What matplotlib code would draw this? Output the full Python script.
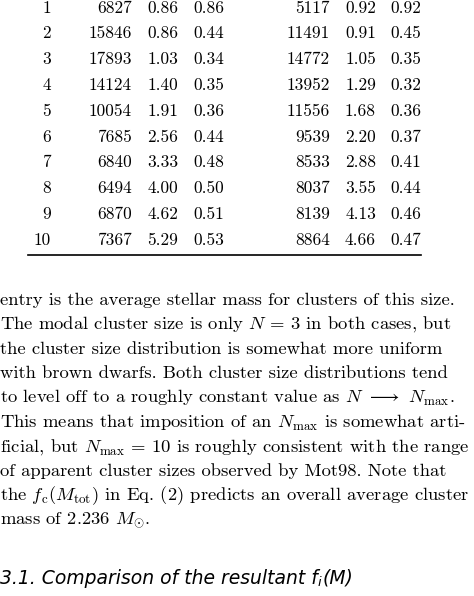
import matplotlib
matplotlib.use("Agg")
import matplotlib.pyplot as plt

plt.rcParams["font.family"] = ["cmr10"]
plt.rcParams["mathtext.fontset"] = "cm"
plt.rcParams["axes.formatter.use_mathtext"] = True

sizes = [1, 2, 3, 4, 5, 6, 7, 8, 9, 10]
count_a = [6827, 15846, 17893, 14124, 10054, 7685, 6840, 6494, 6870, 7367]
mass_a = ["0.86", "0.86", "1.03", "1.40", "1.91", "2.56", "3.33", "4.00", "4.62", "5.29"]
avg_a = ["0.86", "0.44", "0.34", "0.35", "0.36", "0.44", "0.48", "0.50", "0.51", "0.53"]
count_b = [5117, 11491, 14772, 13952, 11556, 9539, 8533, 8037, 8139, 8864]
mass_b = ["0.92", "0.91", "1.05", "1.29", "1.68", "2.20", "2.88", "3.55", "4.13", "4.66"]
avg_b = ["0.92", "0.45", "0.35", "0.32", "0.36", "0.37", "0.41", "0.44", "0.46", "0.47"]

paragraph = [
    "entry is the average stellar mass for clusters of this size.",
    "The modal cluster size is only $N$ = 3 in both cases, but",
    "the cluster size distribution is somewhat more uniform",
    "with brown dwarfs. Both cluster size distributions tend",
    r"to level off to a roughly constant value as $N$ $\longrightarrow$ $N_{\rm max}$.",
    r"This means that imposition of an $N_{\rm max}$ is somewhat arti-",
    r"ficial, but $N_{\rm max}$ = 10 is roughly consistent with the range",
    "of apparent cluster sizes observed by Mot98. Note that",
    r"the $f_{\rm c}(M_{\rm tot})$ in Eq. (2) predicts an overall average cluster",
    r"mass of 2.236 $M_{\odot}$.",
]

fig = plt.figure(figsize=(4.74, 5.96), dpi=100)
ax = fig.add_axes([0, 0, 1, 1])
ax.set_xlim(0, 474)
ax.set_ylim(596, 0)
ax.axis("off")

fs = 12.5
col_right = [51, 132, 178, 224, 330, 376, 421]
for i, n in enumerate(sizes):
    y = 8 + i * 25.8
    vals = [str(n), str(count_a[i]), mass_a[i], avg_a[i], str(count_b[i]), mass_b[i], avg_b[i]]
    for x, v in zip(col_right, vals):
        ax.text(x, y, v, ha="right", va="center", fontsize=fs)

ax.plot([28, 421], [255, 255], color="black", lw=1.2)

pfs = 13.4
for i, line in enumerate(paragraph):
    ax.text(0, 300 + i * 24.5, line, ha="left", va="center", fontsize=pfs)

# heading in sans italic, subscript placed by hand
renderer = fig.canvas.get_renderer()
head = ax.text(0, 578, "3.1. Comparison of the resultant f", ha="left", va="center",
               fontsize=13.5, family="DejaVu Sans", style="italic")
x_end = ax.transData.inverted().transform(
    (head.get_window_extent(renderer).x1, 0))[0]
sub = ax.text(x_end, 582, "i", ha="left", va="center", fontsize=9.5,
              family="DejaVu Sans", style="italic")
x_end = ax.transData.inverted().transform(
    (sub.get_window_extent(renderer).x1, 0))[0]
ax.text(x_end + 1, 578, "(M)", ha="left", va="center", fontsize=13.5,
        family="DejaVu Sans", style="italic")

fig.savefig("out.png", dpi=100)
